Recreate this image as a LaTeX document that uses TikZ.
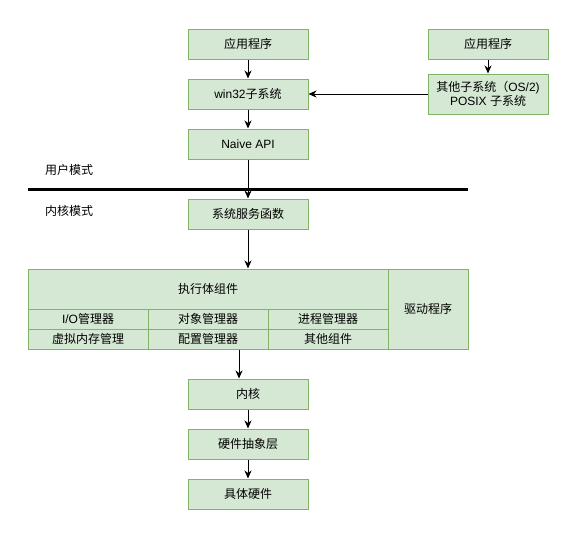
\documentclass[tikz,border=0pt]{standalone}
\usepackage{fontspec}
\setmainfont{Liberation Sans}
\newfontfamily\zh{Noto Sans CJK SC}
\usetikzlibrary{arrows.meta}
\definecolor{boxfill}{HTML}{D5E8D4}
\definecolor{boxline}{HTML}{82B366}

\begin{document}
\begin{tikzpicture}[x=1pt,y=-1pt,
        box/.style={draw=boxline, fill=boxfill, line width=1pt, minimum width=120pt, minimum height=30pt,
            inner sep=0pt, align=center, font=\fontsize{12}{14}\selectfont},
        cell/.style={box, minimum height=20pt},
        arr/.style={-{Stealth[length=8pt,width=7pt,inset=2.5pt]}, line width=1pt},
        lbl/.style={font=\fontsize{12}{14}\selectfont}]

        \useasboundingbox (0,0) rectangle (569,533);

        % user mode
        \node[box] (app) at (248,44) {\zh 应用程序};
        \node[box] (appb) at (488,44) {\zh 应用程序};
        \node[box] (win) at (248,94) {win32{\zh 子系统}};
        \node[box, minimum height=40pt] (other) at (488,94) {{\zh 其他子系统（}OS/2)\\POSIX {\zh 子系统}};
        \node[box] (api) at (248,144) {Naive API};

        \node[lbl] (user) at (69,170) {\zh 用户模式};
        \node[lbl] (kmode) at (69,211) {\zh 内核模式};
        \coordinate (ml) at (28,189);
        \coordinate (mr) at (468,189);
        \draw[line width=3pt] (ml) -- (mr);

        % kernel mode
        \node[box] (svc) at (248,214) {\zh 系统服务函数};

        \node[box, minimum width=360pt, minimum height=40pt] (exec) at (208,289) {\zh 执行体组件};
        \node[cell] (io) at (88,319) {I/O{\zh 管理器}};
        \node[cell] (obj) at (208,319) {\zh 对象管理器};
        \node[cell] (proc) at (328,319) {\zh 进程管理器};
        \node[cell] (vm) at (88,339) {\zh 虚拟内存管理};
        \node[cell] (cfg) at (208,339) {\zh 配置管理器};
        \node[cell] (misc) at (328,339) {\zh 其他组件};
        \node[box, minimum width=80pt, minimum height=80pt] (drv) at (428,309) {\zh 驱动程序};

        \node[box] (kernel) at (248,394) {\zh 内核};
        \node[box] (hal) at (248,444) {\zh 硬件抽象层};
        \node[box] (hw) at (248,494) {\zh 具体硬件};

        \foreach \a/\b in {app/win, appb/other, other/win, win/api, api/svc, kernel/hal, hal/hw}
        {
            \draw[arr] (\a) -- (\b);
        }
        \draw[arr] (svc.south) -- (svc.south |- exec.north);
        \draw[arr] ([xshift=-9pt]kernel.north |- cfg.south) -- ([xshift=-9pt]kernel.north);

    \end{tikzpicture}
\end{document}
